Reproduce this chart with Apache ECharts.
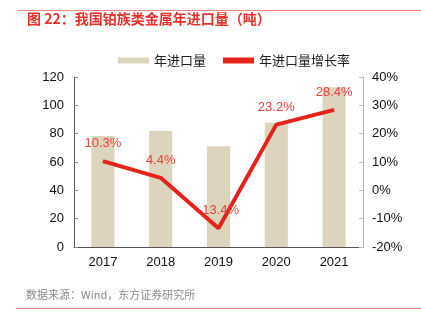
<!DOCTYPE html>
<html><head><meta charset="utf-8">
<script src="https://cdn.jsdelivr.net/npm/echarts@6/dist/echarts.min.js"></script>
<style>html,body{margin:0;padding:0;background:#fff;}#c{width:421px;height:325px;}</style>
</head><body><div id="c"></div>
<script>
var categories = ['2017', '2018', '2019', '2020', '2021'];
var importVolume = [78.4, 81.9, 71.1, 87.7, 112.7];
var growthRate = [10.3, 4.4, -13.4, 23.2, 28.4];
var leftTicks = [0, 20, 40, 60, 80, 100, 120];
var rightTicks = [-20, -10, 0, 10, 20, 30, 40];

var fontEn = 'Liberation Sans, Arial, sans-serif';
var fontCn = '"Noto Sans CJK SC", sans-serif';
var chart = echarts.init(document.getElementById('c'));
chart.setOption({
  animation: false,
  graphic: [
    {type: 'line', shape: {x1: 17, y1: 10.5, x2: 421, y2: 10.5}, style: {stroke: '#f08a80', lineWidth: 1}},
    {type: 'text', left: 27, top: 12, style: {text: '图 22：我国铂族类金属年进口量（吨）', fill: '#e8312b', font: 'bold 14px ' + fontCn}},
    {type: 'text', left: 26, top: 289, style: {text: '数据来源：Wind，东方证券研究所', fill: '#8c8c8c', font: '11px ' + fontCn}},
    {type: 'line', shape: {x1: 16, y1: 308.5, x2: 421, y2: 308.5}, style: {stroke: '#f08a80', lineWidth: 1}}
  ],
  legend: {
    top: 49, left: 113, itemGap: 17, itemWidth: 31, itemHeight: 6,
    textStyle: {fontFamily: fontCn, fontSize: 13, color: '#222'},
    data: [
      {name: '年进口量', icon: 'rect'},
      {name: '年进口量增长率', icon: 'rect', itemStyle: {color: '#e3231c'}}
    ]
  },
  grid: {left: 74, right: 58, top: 77, bottom: 78},
  xAxis: {
    type: 'category', data: categories,
    axisLine: {lineStyle: {color: '#555'}},
    axisTick: {inside: true, length: 4, alignWithLabel: false, lineStyle: {color: '#555'}},
    axisLabel: {fontFamily: fontEn, fontSize: 13, color: '#111', margin: 9}
  },
  yAxis: [
    {type: 'value', min: leftTicks[0], max: leftTicks[leftTicks.length - 1], interval: 20,
     splitLine: {show: false},
     axisLine: {show: true, lineStyle: {color: '#555'}},
     axisTick: {show: true, inside: true, length: 4, lineStyle: {color: '#888'}},
     axisLabel: {fontFamily: fontEn, fontSize: 13, color: '#111', margin: 10}},
    {type: 'value', min: rightTicks[0], max: rightTicks[rightTicks.length - 1], interval: 10,
     splitLine: {show: false},
     axisLine: {show: true, lineStyle: {color: '#bbb'}},
     axisTick: {show: true, inside: true, length: 4, lineStyle: {color: '#bbb'}},
     axisLabel: {fontFamily: fontEn, fontSize: 13, color: '#111', margin: 9, formatter: '{value}%'}}
  ],
  series: [
    {name: '年进口量', type: 'bar', data: importVolume, barWidth: '40%',
     itemStyle: {color: '#ddd4bd'}},
    {name: '年进口量增长率', type: 'line', yAxisIndex: 1, data: growthRate,
     symbol: 'circle', symbolSize: 0, showSymbol: true,
     lineStyle: {color: '#e3231c', width: 4},
     itemStyle: {color: '#e3231c'},
     label: {show: true, position: 'top', distance: 11, color: '#e8413b',
       fontFamily: fontEn, fontSize: 13, formatter: function (p) { return p.value.toFixed(1) + '%'; }}}
  ]
});
</script></body></html>
